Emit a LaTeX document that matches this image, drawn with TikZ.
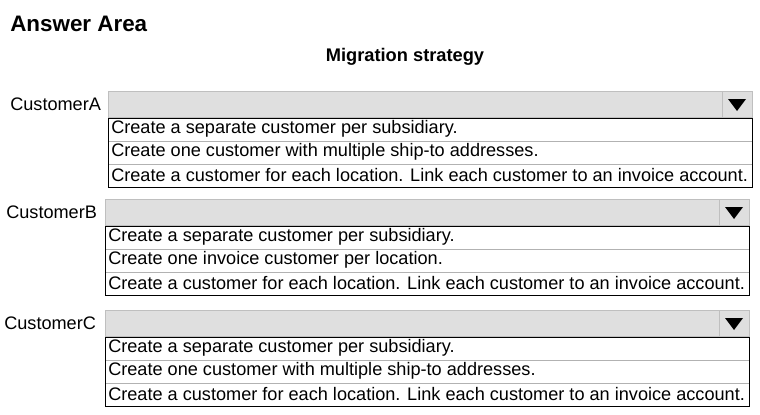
\documentclass[tikz,border=0pt]{standalone}
\usepackage{fontspec}
\setmainfont{Liberation Sans}
\begin{document}
\begin{tikzpicture}[x=0.75pt,y=-0.75pt,
  lbl/.style={anchor=west,font=\fontsize{13.6}{16}\selectfont,inner sep=0},
  opt/.style={anchor=west,font=\fontsize{13.6}{16}\selectfont,inner sep=0}]
\useasboundingbox (0,0) rectangle (760,414);
\node[anchor=west,inner sep=0,font=\bfseries\fontsize{16.8}{20}\selectfont] (t) at (10,24) {Answer Area};
\node[inner sep=0,font=\bfseries\fontsize{13.7}{16}\selectfont] (m) at (405,57) {Migration strategy};
\foreach \n/\lx/\x/\y/\c/\o in {A/10/108/91/A/one customer with multiple ship-to addresses.,B/6/105/199/B/one invoice customer per location.,C/4/105/310/C/one customer with multiple ship-to addresses.}{
  \node[lbl] (l\n) at (\lx,\y+13) {Customer\c};
  \fill[gray!25] (\x,\y) rectangle (\x+644,\y+26);
  \draw[gray!50] (\x,\y) rectangle (\x+644,\y+26) (\x+614,\y) -- (\x+614,\y+26);
  \fill (\x+620,\y+8) -- (\x+638,\y+8) -- (\x+629,\y+20) -- cycle;
  \draw[gray!60] (\x,\y+50) -- (\x+644,\y+50) (\x,\y+73) -- (\x+644,\y+73);
  \draw[black] (\x,\y+27) rectangle (\x+644,\y+96);
  \node[opt] (a\n) at (\x+3,\y+38) {Create a separate customer per subsidiary.};
  \node[opt] (b\n) at (\x+3,\y+61) {Create \o};
  \node[opt] (c\n) at (\x+3,\y+84) {Create a customer for each location. Link each customer to an invoice account.};
}
\end{tikzpicture}
\end{document}
